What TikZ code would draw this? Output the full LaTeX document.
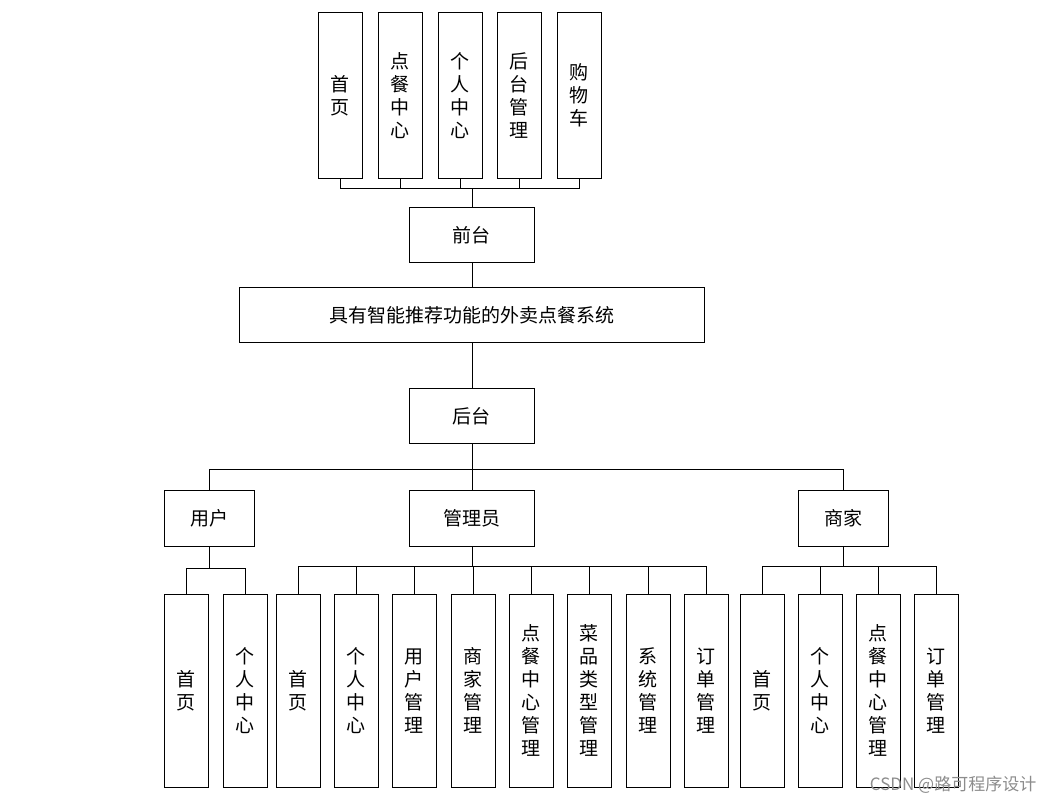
\documentclass[tikz,border=0pt]{standalone}
\usepackage{fontspec}
\usetikzlibrary{calc}
\setmainfont{Noto Sans CJK SC}
\begin{document}
\begin{tikzpicture}[x=1pt,y=-1pt,line width=0.8pt,
  bx/.style={draw,minimum width=44pt,minimum height=#1,anchor=north west,inner sep=0pt,font=\fontsize{19}{23}\selectfont,align=center},
  hb/.style={draw,anchor=north west,inner sep=0pt,font=\fontsize{19}{23}\selectfont}]
\useasboundingbox (0,0) rectangle (1051,804);
% top
\foreach \x/\n/\t in {318/t1/首\\页,378/t2/点\\餐\\中\\心,438/t3/个\\人\\中\\心,497/t4/后\\台\\管\\理,557/t5/购\\物\\车}
  \node[bx=166pt] (\n) at (\x,12) {\t};
\node[hb,minimum width=125pt,minimum height=55pt] (qt) at (409,207) {前台};
\node[hb,minimum width=465pt,minimum height=55pt] (sys) at (239,287) {具有智能推荐功能的外卖点餐系统};
\node[hb,minimum width=125pt,minimum height=55pt] (ht) at (409,388) {后台};
\node[hb,minimum width=90pt,minimum height=56pt] (yh) at (164,490) {用户};
\node[hb,minimum width=125pt,minimum height=56pt] (gly) at (409,490) {管理员};
\node[hb,minimum width=90pt,minimum height=56pt] (sj) at (798,490) {商家};
\foreach \n in {t1,t2,t3,t4,t5} \draw (\n.south) -- ++(0,10);
\draw ($(t1.south)+(0,10)$) -- ($(t5.south)+(0,10)$);
\draw (qt.north) -- ++(0,-19);
\draw (qt.south) -- (sys.north);
\draw (sys.south) -- (ht.north);
\draw (ht.south) -- ++(0,26) coordinate (hb);
\draw (yh.north) -- (yh.north|-hb) -- (sj.north|-hb) -- (sj.north);
\draw (gly.north) -- (hb);
% bottom
\foreach \x/\n/\t in {164/u1/首\\页,223/u2/个\\人\\中\\心,
  276/a1/首\\页,334/a2/个\\人\\中\\心,392/a3/用\\户\\管\\理,451/a4/商\\家\\管\\理,509/a5/点\\餐\\中\\心\\管\\理,567/a6/菜\\品\\类\\型\\管\\理,626/a7/系\\统\\管\\理,684/a8/订\\单\\管\\理,
  740/s1/首\\页,798/s2/个\\人\\中\\心,856/s3/点\\餐\\中\\心\\管\\理,914/s4/订\\单\\管\\理}
  \node[bx=193pt] (\n) at (\x,594) {\t};
\draw (yh.south) -- ++(0,22) coordinate (ub);
\draw (u1.north) -- (u1.north|-ub) -- (u2.north|-ub) -- (u2.north);
\draw (gly.south) -- ++(0,20) coordinate (ab);
\draw (a1.north) -- (a1.north|-ab) -- (a8.north|-ab) -- (a8.north);
\foreach \n in {a2,a3,a4,a5,a6,a7} \draw (\n.north) -- (\n.north|-ab);
\draw (sj.south) -- ++(0,20) coordinate (sb);
\draw (s1.north) -- (s1.north|-sb) -- (s4.north|-sb) -- (s4.north);
\foreach \n in {s2,s3} \draw (\n.north) -- (\n.north|-sb);
\node[text=black!45,font=\fontsize{17}{20}\selectfont,anchor=east] (wm) at (1040,785) {CSDN @路可程序设计};
\end{tikzpicture}
\end{document}
